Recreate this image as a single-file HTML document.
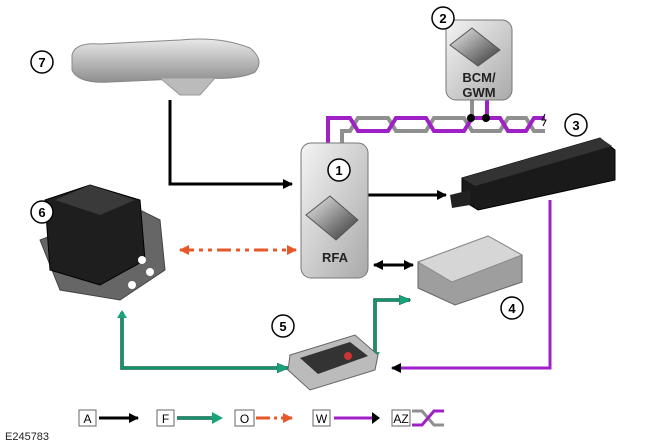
<!DOCTYPE html>
<html><head><style>
body{margin:0;background:#fff;width:672px;height:442px;overflow:hidden;font-family:"Liberation Sans",sans-serif}
</style></head><body>
<svg width="672" height="442" viewBox="0 0 672 442" xmlns="http://www.w3.org/2000/svg">
<defs>
<linearGradient id="g1" x1="0" y1="0" x2="1" y2="1"><stop offset="0" stop-color="#f4f4f4"/><stop offset="1" stop-color="#a9a9a9"/></linearGradient>
<linearGradient id="gh" x1="0" y1="0" x2="0" y2="1"><stop offset="0" stop-color="#e8e8e8"/><stop offset="1" stop-color="#8e8e8e"/></linearGradient>
<linearGradient id="chip" x1="0" y1="0" x2="1" y2="1"><stop offset="0" stop-color="#eee"/><stop offset="1" stop-color="#333"/></linearGradient>
<marker id="ab" markerWidth="8" markerHeight="8" refX="7" refY="4" orient="auto" markerUnits="userSpaceOnUse"><path d="M0,0L8,4L0,8z" fill="#000"/></marker>
<marker id="ag" markerWidth="12" markerHeight="10" refX="11" refY="5" orient="auto" markerUnits="userSpaceOnUse"><path d="M0,0L12,5L0,10z" fill="#1aa37a" stroke="#0d5f45" stroke-width="0.5"/></marker>
<marker id="ao" markerWidth="10" markerHeight="10" refX="9" refY="5" orient="auto-start-reverse" markerUnits="userSpaceOnUse"><path d="M0,0L10,5L0,10z" fill="#e8572a"/></marker>
<marker id="abb" markerWidth="10" markerHeight="10" refX="9" refY="5" orient="auto-start-reverse" markerUnits="userSpaceOnUse"><path d="M0,0L10,5L0,10z" fill="#000"/></marker>
</defs>

<!-- connectors -->
<path d="M170,100V184H292" stroke="#000" stroke-width="3" fill="none" marker-end="url(#abb)"/>
<path d="M368,195H446" stroke="#000" stroke-width="3" fill="none" marker-end="url(#abb)"/>
<path d="M374,265H413" stroke="#000" stroke-width="3" fill="none" marker-start="url(#abb)" marker-end="url(#abb)"/>
<path d="M180,250H296" stroke="#e8572a" stroke-width="3" stroke-dasharray="14,5,4,5,4,5" fill="none" marker-start="url(#ao)" marker-end="url(#ao)"/>
<path d="M122,312V368H288" stroke="#0d5f45" stroke-width="3.5" fill="none"/>
<path d="M122,312V368H288" stroke="#1aa37a" stroke-width="1.5" fill="none" marker-end="url(#ag)"/>
<path d="M122,310l-5,8h10z" fill="#1aa37a"/>
<path d="M375,357V300H410" stroke="#0d5f45" stroke-width="3.5" fill="none"/>
<path d="M375,357V300H410" stroke="#1aa37a" stroke-width="1.5" fill="none" marker-end="url(#ag)"/>
<path d="M375,360l-5,-8h10z" fill="#1aa37a"/>
<path d="M550,200V368H392" stroke="#a020c8" stroke-width="3" fill="none" marker-end="url(#abb)"/>

<!-- twisted pair -->
<g fill="none" stroke-width="4">
<path d="M342,143V131H350L358,118H388L396,131H426L434,118H464L472,131H500L508,118H526L534,131H545" stroke="#8f8f8f"/>
<path d="M328,143V118H350L358,131H388L396,118H426L434,131H464L472,118H500L508,131H526L534,118H545" stroke="#a020c8"/>
<path d="M472,100V118" stroke="#8f8f8f"/><path d="M487,100V120" stroke="#a020c8"/>
</g>
<circle cx="471" cy="118" r="4" fill="#000"/><circle cx="486" cy="118" r="4" fill="#000"/>
<path d="M545,114l-3,6l4,0l-3,6" stroke="#000" fill="none"/>

<!-- RFA -->
<rect x="301" y="143" width="67" height="135" rx="10" fill="url(#g1)" stroke="#777"/>
<circle cx="339" cy="170" r="11" fill="#fff" stroke="#000" stroke-width="1.5"/>
<text x="339" y="175" font-size="13" font-weight="bold" text-anchor="middle">1</text>
<path d="M306,215L330,196L358,220L336,240z" fill="url(#chip)" stroke="#555"/>
<text x="335" y="262" font-size="13" font-weight="bold" text-anchor="middle" fill="#222">RFA</text>

<!-- BCM -->
<rect x="446" y="20" width="66" height="80" rx="10" fill="url(#g1)" stroke="#777"/>
<circle cx="443" cy="18" r="11" fill="#fff" stroke="#000" stroke-width="1.5"/>
<text x="443" y="23" font-size="13" font-weight="bold" text-anchor="middle">2</text>
<path d="M450,45L472,28L500,50L478,66z" fill="url(#chip)" stroke="#555"/>
<text x="479" y="82" font-size="13" font-weight="bold" text-anchor="middle" fill="#222">BCM/</text>
<text x="479" y="97" font-size="13" font-weight="bold" text-anchor="middle" fill="#222">GWM</text>

<!-- handle 7 -->
<path d="M72,55Q75,42 100,44L180,40Q220,36 250,48Q265,60 255,72Q240,80 200,78L110,82Q78,84 72,70z" fill="url(#gh)" stroke="#888"/>
<path d="M160,78L180,95L200,95L215,78z" fill="#bbb" stroke="#999"/>
<circle cx="42" cy="62" r="11" fill="#fff" stroke="#000" stroke-width="1.5"/>
<text x="42" y="67" font-size="13" font-weight="bold" text-anchor="middle">7</text>

<!-- module 6 -->
<path d="M40,240L60,290L120,300L165,270L160,220L130,205z" fill="#666" stroke="#444"/>
<path d="M45,200L90,185L140,200L145,260L100,285L50,270z" fill="#1e1e1e" stroke="#000"/>
<path d="M90,185L135,200L100,215L55,200z" fill="#3a3a3a"/>
<circle cx="142" cy="260" r="4" fill="#fff"/><circle cx="150" cy="272" r="4" fill="#fff"/><circle cx="132" cy="285" r="4" fill="#fff"/>
<circle cx="42" cy="212" r="11" fill="#fff" stroke="#000" stroke-width="1.5"/>
<text x="42" y="217" font-size="13" font-weight="bold" text-anchor="middle">6</text>

<!-- ECU 3 -->
<path d="M462,178L600,138L615,150L615,180L478,210L462,200z" fill="#1a1a1a" stroke="#000"/>
<path d="M462,178L600,138L612,146L475,186z" fill="#333"/>
<path d="M450,195L470,190L470,205L452,208z" fill="#222"/>
<circle cx="576" cy="125" r="11" fill="#fff" stroke="#000" stroke-width="1.5"/>
<text x="576" y="130" font-size="13" font-weight="bold" text-anchor="middle">3</text>

<!-- box 4 -->
<path d="M418,262L488,236L522,255L522,282L455,305L418,288z" fill="#9e9e9e" stroke="#666"/>
<path d="M418,262L488,236L522,255L452,282z" fill="#d6d6d6" stroke="#888"/>
<circle cx="512" cy="308" r="11" fill="#fff" stroke="#000" stroke-width="1.5"/>
<text x="512" y="313" font-size="13" font-weight="bold" text-anchor="middle">4</text>

<!-- key 5 -->
<path d="M290,355L355,335L378,355L375,370L310,390L288,370z" fill="#bbb" stroke="#666"/>
<path d="M300,358L350,342L368,356L318,374z" fill="#333"/>
<circle cx="348" cy="356" r="4" fill="#c33"/>
<circle cx="283" cy="326" r="11" fill="#fff" stroke="#000" stroke-width="1.5"/>
<text x="283" y="331" font-size="13" font-weight="bold" text-anchor="middle">5</text>

<!-- legend -->
<g font-size="12" text-anchor="middle">
<rect x="79" y="410" width="17" height="16" fill="#fff" stroke="#666"/><text x="87.5" y="423">A</text>
<path d="M99,418H138" stroke="#000" stroke-width="3" marker-end="url(#abb)"/>
<rect x="157" y="410" width="17" height="16" fill="#fff" stroke="#666"/><text x="165.5" y="423">F</text>
<path d="M177,418H212" stroke="#0d5f45" stroke-width="3.5"/><path d="M177,418H212" stroke="#1aa37a" stroke-width="1.5"/><path d="M212,412L223,418L212,424z" fill="#1aa37a"/>
<rect x="235" y="410" width="19" height="16" fill="#fff" stroke="#666"/><text x="244.5" y="423">O</text>
<path d="M256,418H292" stroke="#e8572a" stroke-width="3" stroke-dasharray="14,4,3,4,3,4" marker-end="url(#ao)"/>
<rect x="313" y="410" width="17" height="16" fill="#fff" stroke="#666"/><text x="321.5" y="423">W</text>
<path d="M334,418H372" stroke="#a020c8" stroke-width="3"/><path d="M372,412L380,418L372,424z" fill="#000"/>
<rect x="392" y="410" width="18" height="16" fill="#fff" stroke="#666"/><text x="401" y="423">AZ</text>
<path d="M412,411H422L434,425H444" stroke="#8f8f8f" stroke-width="3" fill="none"/>
<path d="M412,425H422L434,411H444" stroke="#a020c8" stroke-width="3" fill="none"/>
</g>
<text x="5" y="440" font-size="11" fill="#222">E245783</text>
</svg>
</body></html>
